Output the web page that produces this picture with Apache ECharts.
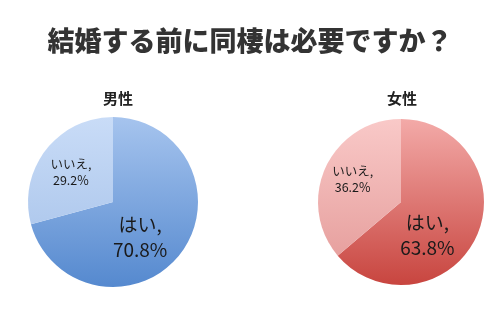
<!DOCTYPE html>
<html><head><meta charset="utf-8">
<script src="https://cdn.jsdelivr.net/npm/echarts@6/dist/echarts.min.js"></script>
<style>html,body{margin:0;padding:0;background:#fff}#c{width:500px;height:312px}</style>
</head><body><div id="c"></div>
<script>
const chartTitle = '結婚する前に同棲は必要ですか？';
const groups = ['男性', '女性'];
const categories = ['はい', 'いいえ'];
const maleValues = [70.8, 29.2];
const femaleValues = [63.8, 36.2];

const FONT = '"Noto Sans CJK JP", "Noto Sans", sans-serif';
const chart = echarts.init(document.getElementById('c'));

const pies = [
  {cx: 113, cy: 202, r: 85, values: maleValues,
   colors: [['#a6c4ee', '#5589cf'], ['#c9dcf7', '#a2bfe8']],
   offs: [[-9, 8], [-6, -2]]},
  {cx: 401, cy: 202, r: 83, values: femaleValues,
   colors: [['#f3aaa8', '#c8453f'], ['#f9c9c8', '#e39896']],
   offs: [[-14, 15], [-8, -4]]}
];

function grad(p, c) {
  return new echarts.graphic.LinearGradient(0, p.cy - p.r, 0, p.cy + p.r,
    [{offset: 0, color: c[0]}, {offset: 1, color: c[1]}], true);
}

const series = pies.map(p => ({
  type: 'pie',
  center: [p.cx, p.cy],
  radius: [0, p.r],
  startAngle: 90,
  clockwise: true,
  silent: true,
  animation: false,
  data: categories.map((name, i) => ({
    name: name,
    value: p.values[i],
    itemStyle: {color: grad(p, p.colors[i]), borderWidth: 0},
    label: i === 0
      ? {fontSize: 19, lineHeight: 25, offset: p.offs[0]}
      : {fontSize: 12.5, lineHeight: 16, offset: p.offs[1]}
  })),
  label: {
    show: true,
    position: 'inside',
    formatter: '{b},\n{c}%',
    color: '#1a1a1a',
    fontFamily: FONT,
    align: 'center'
  },
  labelLine: {show: false}
}));

chart.setOption({
  backgroundColor: '#fff',
  title: [
    {text: chartTitle, left: 'center', top: 22,
     textStyle: {fontSize: 27, fontWeight: 900, color: '#333', fontFamily: FONT}},
    {text: groups[0], left: 113, top: 86, textAlign: 'center',
     textStyle: {fontSize: 15, fontWeight: 'bold', color: '#222', fontFamily: FONT}},
    {text: groups[1], left: 397, top: 86, textAlign: 'center',
     textStyle: {fontSize: 15, fontWeight: 'bold', color: '#222', fontFamily: FONT}}
  ],
  series: series
});
</script></body></html>
